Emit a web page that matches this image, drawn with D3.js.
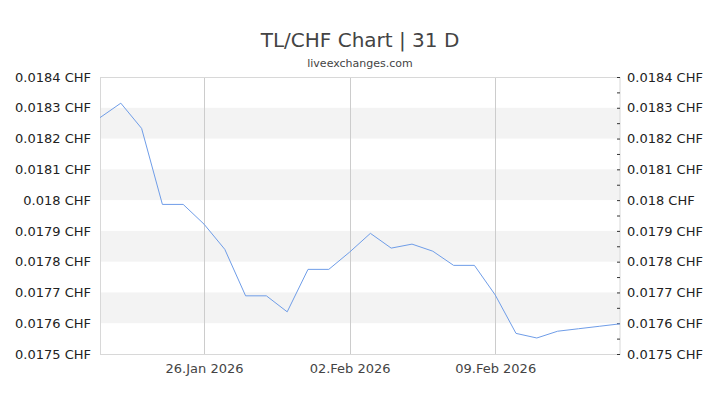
<!DOCTYPE html>
<html>
<head>
<meta charset="utf-8">
<script src="https://cdn.jsdelivr.net/npm/d3@7"></script>
<style>
  body { margin: 0; background: #fff; }
  text { font-family: "DejaVu Sans", sans-serif; }
</style>
</head>
<body>
<script>
// daily TL/CHF rates, 21 Jan 2026 .. 15 Feb 2026
var startDate = "2026-01-21"
var rates = [
  0.018268, 0.018315, 0.018233, 0.017986, 0.017986, 0.017922, 0.017840,
  0.017689, 0.017689, 0.017637, 0.017775, 0.017775, 0.017831, 0.017892,
  0.017844, 0.017857, 0.017834, 0.017788, 0.017788, 0.017692, 0.017567,
  0.017552, 0.017574, 0.017582, 0.017590, 0.017598
]
var yTicks = [0.0175, 0.0176, 0.0177, 0.0178, 0.0179, 0.018, 0.0181, 0.0182, 0.0183, 0.0184]
var xTicks = ["2026-01-26", "2026-02-02", "2026-02-09"]
var bands = [[0.0182, 0.0183], [0.018, 0.0181], [0.0178, 0.0179], [0.0176, 0.0177]]

function main() {
  width = 720
  height = 405

  var parse = d3.timeParse("%Y-%m-%d")
  var t0 = parse(startDate)
  data = rates.map(function(v, i) {
    return {date: d3.timeDay.offset(t0, i), value: v}
  })

  canvas = d3.select("body")
  .append("svg")
  .attr("width", width)
  .attr("height", height)

  var x = d3.scaleTime()
  .domain([data[0].date, data[data.length - 1].date])
  .range([100, 620])
  var y = d3.scaleLinear()
  .domain([0.0175, 0.0184])
  .range([354, 77])

  // alternating bands
  canvas.append("g")
  .selectAll("rect")
  .data(bands)
  .enter()
  .append("rect")
  .attr("x", 100)
  .attr("width", 520)
  .attr("y", function(d) {return y(d[1])})
  .attr("height", function(d) {return y(d[0]) - y(d[1])})
  .attr("fill", "#f3f3f3")

  // vertical grid
  canvas.append("g")
  .selectAll("line")
  .data(xTicks.map(parse))
  .enter()
  .append("line")
  .attr("x1", function(d) {return Math.round(x(d)) + 0.5})
  .attr("x2", function(d) {return Math.round(x(d)) + 0.5})
  .attr("y1", 77)
  .attr("y2", 354)
  .attr("stroke", "#cccccc")

  // frame
  canvas.append("rect")
  .attr("x", 100.5)
  .attr("y", 77.5)
  .attr("width", 519.5)
  .attr("height", 277)
  .attr("fill", "none")
  .attr("stroke", "#d8d8d8")

  var fmt = function(d) {return (+d.toFixed(4)) + " CHF"}

  // left axis labels
  var left = d3.axisLeft(y).tickValues(yTicks).tickFormat(fmt).tickSize(0).tickPadding(9)
  var gl = canvas.append("g").attr("transform", "translate(100,0)").call(left)
  gl.select(".domain").remove()
  gl.selectAll("text").attr("font-size", 13).attr("fill", "#222")

  // right axis with minor ticks
  var minor = d3.range(0, 9).map(function(i) {return 0.01755 + i * 0.0001})
  var gm = canvas.append("g").attr("transform", "translate(620,0)")
  .call(d3.axisLeft(y).tickValues(minor).tickFormat("").tickSize(3))
  gm.select(".domain").remove()
  gm.selectAll("line").attr("stroke", "#333")

  var right = d3.axisRight(y).tickValues(yTicks).tickFormat(fmt).tickSize(0).tickPadding(7)
  var gr = canvas.append("g").attr("transform", "translate(620,0)").call(right)
  gr.select(".domain").remove()
  gr.selectAll("text").attr("font-size", 13).attr("fill", "#222")
  gr.selectAll(".tick").append("line")
  .attr("x1", -3).attr("x2", 0).attr("stroke", "#333")

  // bottom axis labels
  var bottom = d3.axisBottom(x).tickValues(xTicks.map(parse))
  .tickFormat(d3.timeFormat("%d.%b %Y")).tickSize(0).tickPadding(10)
  var gb = canvas.append("g").attr("transform", "translate(0,354)").call(bottom)
  gb.select(".domain").remove()
  gb.selectAll("text").attr("font-size", 13).attr("fill", "#444")

  // rate line
  var line = d3.line()
  .x(function(d) {return x(d.date)})
  .y(function(d) {return y(d.value)})
  canvas.append("path")
  .datum(data)
  .attr("d", line)
  .attr("fill", "none")
  .attr("stroke", "#6f9de8")
  .attr("stroke-width", 1)

  // titles
  canvas.append("text")
  .attr("x", 360).attr("y", 47)
  .attr("text-anchor", "middle")
  .attr("font-size", 20)
  .attr("fill", "#444")
  .text("TL/CHF Chart | 31 D")
  canvas.append("text")
  .attr("x", 360).attr("y", 67)
  .attr("text-anchor", "middle")
  .attr("font-size", 11)
  .attr("fill", "#444")
  .text("liveexchanges.com")
}

main()
</script>
</body>
</html>
